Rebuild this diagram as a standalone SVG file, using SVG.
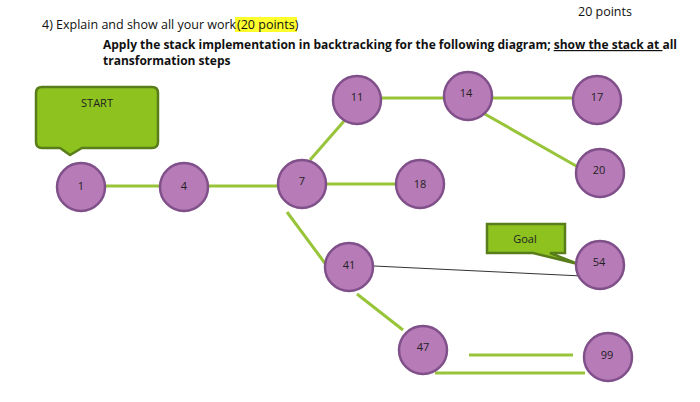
<svg xmlns="http://www.w3.org/2000/svg" width="700" height="402" viewBox="0 0 700 402">
<style>
.n circle{fill:#b77bb7;stroke:#80508a;stroke-width:2.5}
.n text,.t{font-family:"Open Sans","Liberation Sans",sans-serif;font-size:11px;fill:#222}
.n text{text-anchor:middle}
.e line{stroke:#98c43a;stroke-width:3}
.call{fill:#8dc21f;stroke:#5a7d1c;stroke-width:2.5}
.h{font-family:"Open Sans","Liberation Sans",sans-serif;font-size:12.5px;fill:#111}
.b{font-family:"Open Sans","Liberation Sans",sans-serif;font-size:12px;font-weight:bold;fill:#111}
</style>
<rect width="700" height="402" fill="#fff"/>
<text class="h" x="578" y="16">20 points</text>
<rect x="235" y="17" width="62" height="15" fill="#ffff2e"/>
<text class="h" x="42" y="29">4) Explain and show all your work   <tspan x="237">(20 points)</tspan></text>
<text class="b" x="103" y="49">Apply the stack implementation in backtracking for the following diagram; <tspan text-decoration="underline">show the stack at </tspan>all</text>
<text class="b" x="103" y="65">transformation steps</text>
<g class="e" id="connectors">
<line x1="105" y1="186" x2="160" y2="186"/>
<line x1="208" y1="186" x2="278" y2="186"/>
<line x1="326" y1="184" x2="396" y2="184"/>
<line x1="310" y1="160" x2="345" y2="120"/>
<line x1="381" y1="98" x2="444" y2="98"/>
<line x1="492" y1="98" x2="573" y2="98"/>
<line x1="483" y1="113" x2="578" y2="167"/>
<line x1="287" y1="212" x2="327" y2="266"/>
<line x1="357" y1="294" x2="403" y2="330"/>
<line x1="469" y1="355" x2="573" y2="355"/>
<line x1="435" y1="373" x2="585" y2="373"/>
<line x1="374" y1="266" x2="582" y2="276" style="stroke:#333;stroke-width:1"/>
</g>
<g id="start"><path class="call" d="M42 87H152Q158 87 158 93V142Q158 148 152 148H82L70 155L60 148H42Q36 148 36 142V93Q36 87 42 87Z"/><text class="t" x="97" y="107" text-anchor="middle">START</text></g>
<g id="goal"><path class="call" d="M487 224H565V253H550L578 264L533 253H487Z"/><text class="t" x="525" y="243" text-anchor="middle">Goal</text></g>
<g class="n" id="n1"><circle cx="81" cy="187" r="24"/><text x="81" y="190">1</text></g>
<g class="n" id="n4"><circle cx="184" cy="187" r="24"/><text x="184" y="190">4</text></g>
<g class="n" id="n7"><circle cx="302" cy="184" r="24"/><text x="302" y="185">7</text></g>
<g class="n" id="n18"><circle cx="420" cy="184" r="24"/><text x="420" y="188">18</text></g>
<g class="n" id="n11"><circle cx="357" cy="100" r="24"/><text x="357" y="101">11</text></g>
<g class="n" id="n14"><circle cx="468" cy="96" r="24"/><text x="466" y="97">14</text></g>
<g class="n" id="n17"><circle cx="597" cy="100" r="24"/><text x="597" y="101">17</text></g>
<g class="n" id="n20"><circle cx="600" cy="173" r="24"/><text x="599" y="174">20</text></g>
<g class="n" id="n41"><circle cx="349" cy="267" r="24"/><text x="349" y="269">41</text></g>
<g class="n" id="n54"><circle cx="600" cy="265" r="24"/><text x="599" y="266">54</text></g>
<g class="n" id="n47"><circle cx="423" cy="350" r="24"/><text x="423" y="351">47</text></g>
<g class="n" id="n99"><circle cx="608" cy="357" r="24"/><text x="607" y="359">99</text></g>
</svg>
